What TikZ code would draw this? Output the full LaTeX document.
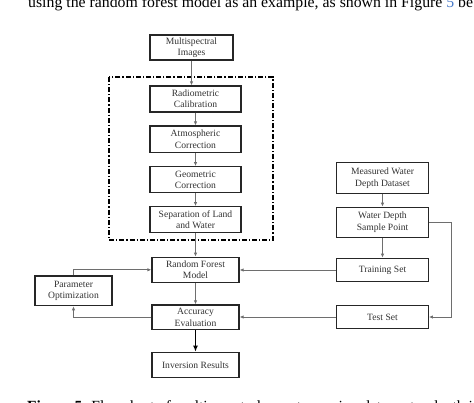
\documentclass[tikz,border=0pt]{standalone}
\usepackage{fontspec}
\setmainfont{Liberation Serif}
\usetikzlibrary{arrows.meta,calc}
\definecolor{linkgray}{RGB}{110,110,110}
\definecolor{boxtext}{RGB}{50,50,50}
\definecolor{refblue}{RGB}{70,120,200}
\def\Lx{195.5}
\def\Rx{382.5}
\def\BoxW{91}
\def\LowW{87}
\tikzset{
  box/.style={draw=black!85, line width=1.2pt, rectangle, align=center, inner sep=1pt,
    text=boxtext, font=\fontsize{9.6}{11.4}\selectfont},
  link/.style={draw=linkgray, line width=0.9pt, -{Latex[length=4pt,width=3.4pt]}},
  mainarrow/.style={draw=black, line width=1.5pt, -{Latex[length=6pt,width=5pt]}},
  dashframe/.style={draw=black, line width=1.1pt, dash pattern=on 5pt off 2pt on 1.2pt off 2pt}
}
\begin{document}
\begin{tikzpicture}[x=1pt,y=-1pt]
\useasboundingbox (0,0) rectangle (474,402);
\clip (0,0) rectangle (474,402);

\node[anchor=base west, font=\fontsize{15.8}{18}\selectfont, inner sep=0pt] (topline) at (28,7)
  {using the random forest model as an example, as shown in Figure \textcolor{refblue}{5} be};
\node[anchor=base west, font=\fontsize{15.5}{18}\selectfont, inner sep=0pt] (caption) at (27,411)
  {\textbf{Figure 5.} Flowchart of multi-spectral remote sensing data water depth inversion.};

\draw[dashframe] (109,77) rectangle (273,240);

\node[box, minimum width=83pt, minimum height=25pt] (multi) at (191.5,47.5) {Multispectral\\Images};
\node[box, minimum width=\BoxW pt, minimum height=26pt] (radio) at (\Lx,99) {Radiometric\\Calibration};
\node[box, minimum width=\BoxW pt, minimum height=26.5pt] (atmos) at (\Lx,139.3) {Atmospheric\\Correction};
\node[box, minimum width=\BoxW pt, minimum height=26pt] (geo) at (\Lx,179.7) {Geometric\\Correction};
\node[box, minimum width=\BoxW pt, minimum height=25.6pt] (sep) at (\Lx,219.5) {Separation of Land\\and Water};
\node[box, minimum width=\LowW pt, minimum height=25pt] (rf) at (\Lx,269.8) {Random Forest\\Model};
\node[box, minimum width=\LowW pt, minimum height=24.5pt] (acc) at (\Lx,317.2) {Accuracy\\Evaluation};
\node[box, minimum width=\LowW pt, minimum height=25.4pt] (inv) at (\Lx,365) {Inversion Results};
\node[box, minimum width=77pt, minimum height=29.7pt] (param) at (73.5,290.8) {Parameter\\Optimization};

\node[box, minimum width=91.6pt, minimum height=30.6pt] (meas) at (\Rx,178) {Measured Water\\Depth Dataset};
\node[box, minimum width=91.6pt, minimum height=30pt] (samp) at (\Rx,222.3) {Water Depth\\Sample Point};
\node[box, minimum width=91.6pt, minimum height=23.4pt] (train) at (\Rx,270) {Training Set};
\node[box, minimum width=91.6pt, minimum height=22.6pt] (test) at (\Rx,317) {Test Set};

\draw[link] (multi.south) -- (multi.south |- radio.north);
\draw[link] (radio) -- (atmos);
\draw[link] (atmos) -- (geo);
\draw[link] (geo) -- (sep);
\draw[link] (sep) -- (rf);
\draw[link] (rf) -- (acc);
\draw[mainarrow] (acc) -- (inv);

\draw[link] (param.north) |- (rf.west);
\draw[link] (acc.west) -| (param.south);

\draw[link] (meas) -- (samp);
\draw[link] (samp) -- (train);
\draw[link] (samp.east) -- ++(22.4,0) |- (test.east);
\draw[link] (train.west) -- (train.west -| rf.east);
\draw[link] (test.west) -- (test.west -| acc.east);
\end{tikzpicture}
\end{document}
